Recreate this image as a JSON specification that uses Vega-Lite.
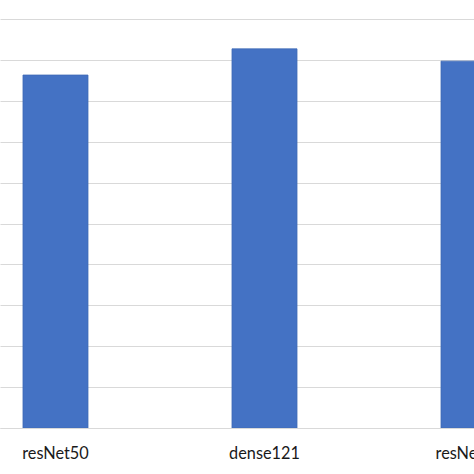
{
  "$schema": "https://vega.github.io/schema/vega-lite/v6.json",
  "autosize": "none",
  "width": 474,
  "height": 409,
  "padding": {"top": 19, "left": 0, "right": 0, "bottom": 46},
  "background": "white",
  "config": {"view": {"stroke": null}},
  "data": {
    "values": [
      {"model": "resNet50", "accuracy": 0.863},
      {"model": "dense121", "accuracy": 0.927},
      {"model": "resNet101", "accuracy": 0.897}
    ]
  },
  "mark": {"type": "bar", "color": "#4472C4", "stroke": "#3F69B5", "strokeWidth": 0.8, "clip": true},
  "encoding": {
    "x": {
      "field": "model",
      "type": "nominal",
      "sort": null,
      "scale": {"range": [0, 529], "paddingInner": 0.689, "paddingOuter": 0.11},
      "axis": {
        "title": null,
        "labelAngle": 0,
        "ticks": false,
        "domain": true,
        "domainColor": "#d9d9d9",
        "domainWidth": 1,
        "labelPadding": 17,
        "labelFont": "Lato",
        "labelFontSize": 16.3,
        "labelColor": "#1a1a1a",
        "labelOverlap": false,
        "labelBound": false
      }
    },
    "y": {
      "field": "accuracy",
      "type": "quantitative",
      "scale": {"domain": [0, 1], "nice": false},
      "axis": {
        "title": null,
        "labels": false,
        "ticks": false,
        "domain": false,
        "values": [0, 0.1, 0.2, 0.3, 0.4, 0.5, 0.6, 0.7, 0.8, 0.9, 1.0],
        "grid": true,
        "gridColor": "#d9d9d9",
        "gridWidth": 1
      }
    }
  }
}
